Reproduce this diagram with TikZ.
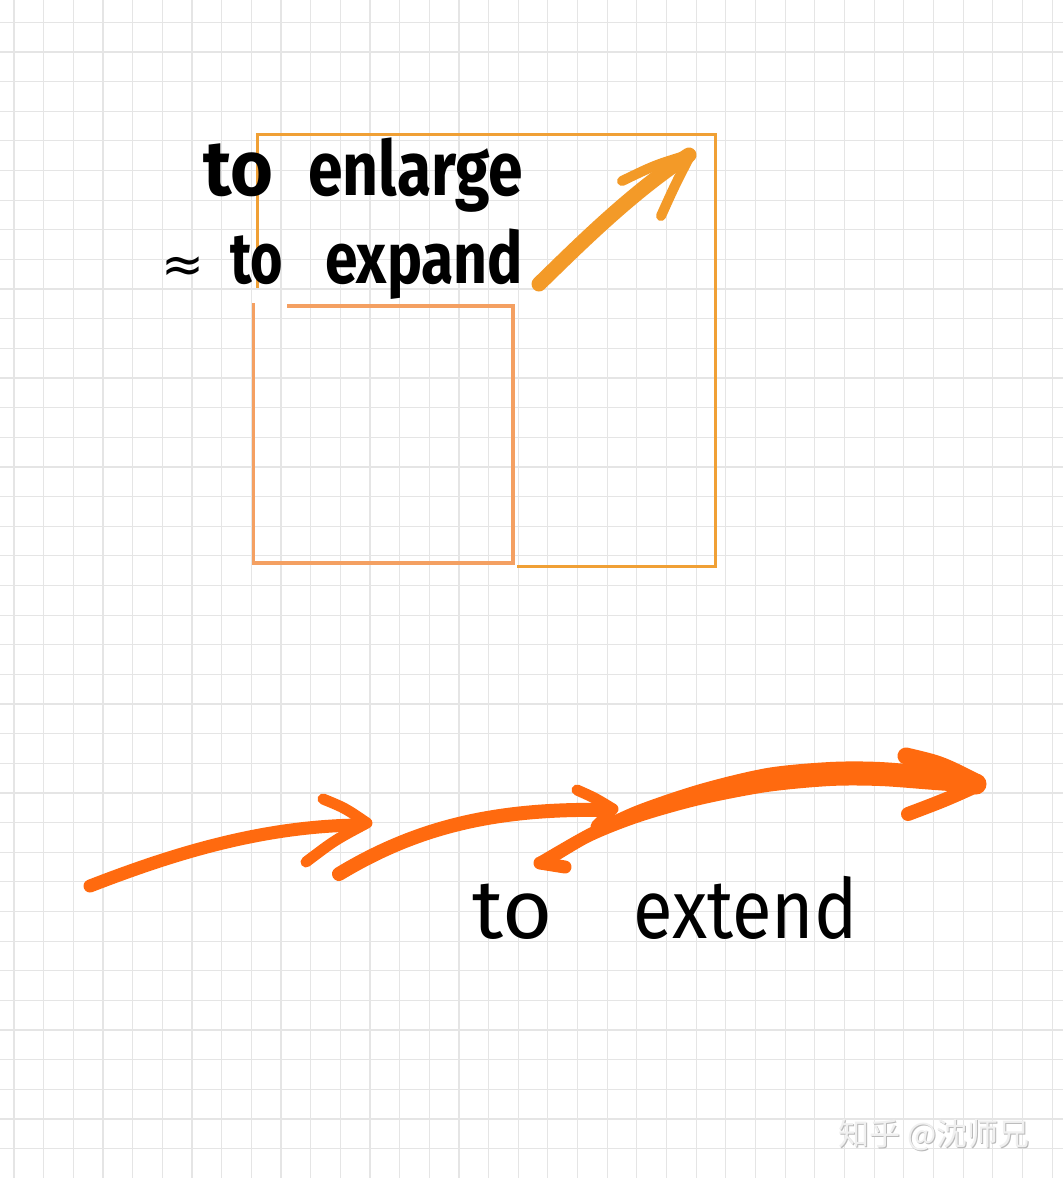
\documentclass[tikz,border=0pt]{standalone}
\usepackage{fontspec}
\setmainfont{Fira Sans}
\newfontfamily\cjk{Noto Sans CJK SC}
\newfontfamily\dejavu{DejaVu Sans}
\usepackage{graphicx}
\definecolor{gridc}{HTML}{E5E5E5}
\definecolor{bigc}{HTML}{F0A035}
\definecolor{smallc}{HTML}{F4A062}
\definecolor{arrA}{HTML}{F39A28}
\definecolor{arrB}{HTML}{FF6A0F}
\tikzset{
  gridline/.style={draw=gridc, line width=1.2pt},
  bigrect/.style={draw=bigc, line width=3pt},
  smallrect/.style={draw=smallc, line width=3.3pt},
  brushA/.style={draw=arrA, line cap=round, line join=round},
  brushB/.style={draw=arrB, line cap=round, line join=round},
  handbold/.style={inner sep=0pt, anchor=base west, text=black, font=\bfseries},
  handreg/.style={inner sep=0pt, anchor=base west, text=black},
}
\begin{document}
\begin{tikzpicture}[x=1pt,y=-1pt]
\useasboundingbox (0,0) rectangle (1063,1178);
\fill[white] (0,0) rectangle (1063,1178);
% grid
\foreach \i in {0,...,35} \draw[gridline] ({14+29.66*\i},0) -- ({14+29.66*\i},1178);
\foreach \j in {0,...,38} \draw[gridline] (0,{22.3+29.64*\j}) -- (1063,{22.3+29.64*\j});

% rectangles
\draw[bigrect] (257,288) -- (257,134) -- (715,134) -- (715,566) -- (517,566);
\draw[smallrect] (287,306) -- (513,306) -- (513,563) -- (253.5,563) -- (253.5,303);

% upper arrow
\draw[brushA, line width=15pt] (539,284) .. controls (578,246) and (632,192) .. (689,155);
\draw[brushA, line width=10pt] (622,181) .. controls (655,165) .. (691,154) .. controls (675,185) .. (661,216);

% text upper
\node[handbold] (t1) at (203,195) {\fontsize{78}{80}\selectfont\resizebox{70pt}{\height}{to}};
\node[handbold] (t2) at (308,195) {\fontsize{76}{80}\selectfont\resizebox{215pt}{\height}{enlarge}};
\node[inner sep=0pt, anchor=center] (approx) at (183,270) {\dejavu\fontsize{52}{56}\selectfont\resizebox{43pt}{\height}{≈}};
\node[handbold] (t3) at (230,283) {\fontsize{72}{76}\selectfont\resizebox{53pt}{\height}{to}};
\node[handbold] (t4) at (325,283) {\fontsize{72}{76}\selectfont\resizebox{198pt}{\height}{expand}};

% bottom arrows
\draw[brushB, line width=13pt] (90,886) .. controls (170,855) and (260,826) .. (360,825);
\draw[brushB, line width=11pt] (323,799) .. controls (345,808) .. (367,823) .. controls (335,840) .. (306,862);

\draw[brushB, line width=14pt] (339,874) .. controls (420,825) and (500,808) .. (608,810);
\draw[brushB, line width=11pt] (577,790) .. controls (595,798) .. (613,809) -- (596,826);

\fill[arrB] plot[smooth] coordinates {(538,857) (585,830) (635,806) (700,784) (767,768) (830,762) (880,762) (935,767) (975,775)}
  -- plot[smooth] coordinates {(978,793) (935,790) (880,786) (830,786) (767,792) (700,805) (640,822) (590,842) (545,869)} -- cycle;
\draw[brushB, line width=13pt] (565,867) -- (540,863);
\fill[arrB] (976,784) circle (10.5);
\draw[brushB, line width=17pt] (906,756) .. controls (940,764) .. (974,781);
\draw[brushB, line width=14pt] (976,786) .. controls (945,800) .. (908,814);

% text bottom
\node[handreg] (t5) at (472,938) {\fontsize{83}{86}\selectfont\resizebox{80pt}{\height}{to}};
\node[handreg] (t6) at (633,938) {\fontsize{83}{86}\selectfont\resizebox{224pt}{\height}{extend}};

% watermark
\node[inner sep=0pt, anchor=west, text=gray!55] (wms) at (839.5,1136.5) {\cjk\fontsize{31}{34}\selectfont 知乎 @沈师兄};
\node[inner sep=0pt, anchor=west, text=gray!12] (wm) at (838,1135) {\cjk\fontsize{31}{34}\selectfont 知乎 @沈师兄};
\end{tikzpicture}
\end{document}
